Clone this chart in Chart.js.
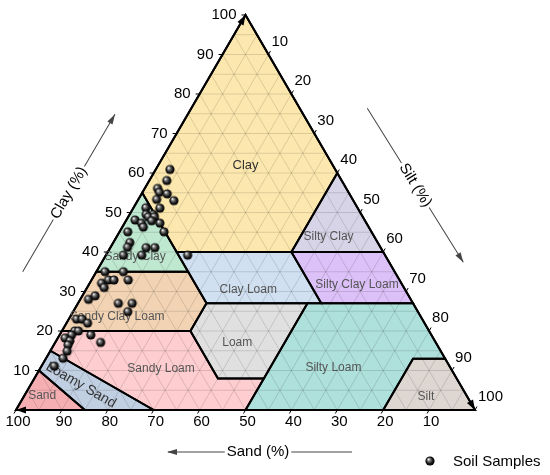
<!DOCTYPE html>
<html>
<head>
<meta charset="utf-8">
<script src="https://cdn.jsdelivr.net/npm/chart.js@4.4.0/dist/chart.umd.min.js"></script>
<style>
  html, body { margin: 0; padding: 0; background: #fff; }
  #wrap { width: 550px; height: 475px; }
</style>
</head>
<body>
<div id="wrap"><canvas id="soilChart" width="550" height="475"></canvas></div>
<script>
// soil samples (%) - silt is whatever is left
const sampleSand = [36.0, 38.1, 41.1, 41.2, 39.7, 42.7, 39.1, 46.1, 43.1, 46.9, 45.3, 46.7, 45.4, 50.0, 49.0,
  46.5, 45.0, 49.1, 45.2, 53.1, 54.0, 55.1, 51.1, 49.2, 57.0, 53.0, 43.0, 63.1, 59.1, 65.3, 63.4, 62.2, 59.1,
  65.3, 70.2, 68.3, 64.2, 61.2, 63.2, 75.3, 74.1, 73.4, 77.2, 76.4, 78.4, 74.2, 80.2, 79.5, 73.0, 80.4, 81.4,
  83.2, 86.1];
const sampleClay = [60.9, 58.1, 56.1, 55.1, 54.7, 53.3, 53.0, 51.2, 51.1, 49.5, 49.5, 48.9, 48.9, 48.1, 47.3,
  47.9, 47.3, 46.3, 45.1, 45.1, 42.4, 41.2, 41.1, 41.1, 39.2, 39.2, 39.2, 35.0, 35.0, 32.1, 32.9, 32.9, 32.9,
  31.0, 28.0, 28.9, 27.0, 27.0, 24.9, 23.0, 23.0, 22.0, 20.0, 20.0, 19.0, 19.0, 18.2, 17.5, 17.1, 16.5, 14.9,
  13.1, 11.1];

const tickValues = [10, 20, 30, 40, 50, 60, 70, 80, 90, 100];

// texture classes, corners given as [sand, clay]
const classNames = ["Clay", "Silty Clay", "Sandy Clay", "Clay Loam", "Silty Clay Loam", "Sandy Clay Loam",
  "Loam", "Silty Loam", "Sandy Loam", "Loamy Sand", "Sand", "Silt"];
const classShapes = [
  [[0, 100], [45, 55], [45, 40], [20, 40], [0, 60]],
  [[0, 60], [20, 40], [0, 40]],
  [[45, 55], [65, 35], [45, 35]],
  [[45, 40], [45, 27], [20, 27], [20, 40]],
  [[20, 40], [20, 27], [0, 27], [0, 40]],
  [[65, 35], [80, 20], [52, 20], [45, 27], [45, 35]],
  [[45, 27], [23, 27], [42, 8], [52, 8], [52, 20]],
  [[23, 27], [0, 27], [0, 13], [7, 13], [20, 0], [50, 0], [42, 8]],
  [[80, 20], [52, 20], [52, 8], [42, 8], [50, 0], [70, 0], [85, 15]],
  [[85, 15], [70, 0], [85, 0], [90, 10]],
  [[90, 10], [85, 0], [100, 0]],
  [[7, 13], [0, 13], [0, 0], [20, 0]]
];
const classLabelAt = [[19, 62], [10, 43.8], [54.7, 38.7], [34.2, 30.4], [9.9, 31.6], [66.2, 23.5],
  [43.3, 17], [25.5, 10.7], [63.2, 10.4], [82.7, 6.3], [92.5, 3.6], [9, 3.4]];
const classColors = ["#fce8ae", "#d6d4e6", "#bfe8d0", "#d0e0f1", "#dcc0f8", "#f2d4b4",
  "#e0e0e0", "#aee0dc", "#fdcdcf", "#c0cfe2", "#f5afb3", "#ddd6d1"];

const FONT = 'Arial, "Liberation Sans", sans-serif';

function makeBall(r) {
  const c = document.createElement("canvas");
  const s = Math.ceil(r * 2) + 2;
  c.width = s; c.height = s;
  const g = c.getContext("2d");
  const m = s / 2;
  const grad = g.createRadialGradient(m - r * 0.35, m - r * 0.4, r * 0.05, m, m, r);
  grad.addColorStop(0, "#ffffff");
  grad.addColorStop(0.3, "#7a7a7a");
  grad.addColorStop(0.7, "#151515");
  grad.addColorStop(1, "#000000");
  g.fillStyle = grad;
  g.beginPath();
  g.arc(m, m, r, 0, Math.PI * 2);
  g.fill();
  return c;
}
const ball = makeBall(4.6);

function arrowHead(ctx, x, y, ang, len, half) {
  ctx.save();
  ctx.translate(x, y);
  ctx.rotate(ang);
  ctx.beginPath();
  ctx.moveTo(0, 0);
  ctx.lineTo(-len, -half);
  ctx.lineTo(-len, half);
  ctx.closePath();
  ctx.fill();
  ctx.restore();
}

const ternaryPlugin = {
  id: "ternary",
  beforeDatasetsDraw(chart) {
    const ctx = chart.ctx;
    const xs = chart.scales.x, ys = chart.scales.y;
    const P = (sand, clay) => [xs.getPixelForValue(100 - sand - clay / 2), ys.getPixelForValue(clay)];
    ctx.save();

    // class fills
    classShapes.forEach((shape, i) => {
      ctx.beginPath();
      shape.forEach((v, j) => {
        const p = P(v[0], v[1]);
        if (j === 0) ctx.moveTo(p[0], p[1]); else ctx.lineTo(p[0], p[1]);
      });
      ctx.closePath();
      ctx.fillStyle = classColors[i];
      ctx.fill();
    });

    // 5% grid
    ctx.strokeStyle = "rgba(0,0,0,0.13)";
    ctx.lineWidth = 1;
    for (let k = 5; k < 100; k += 5) {
      const segs = [[P(100 - k, k), P(0, k)], [P(k, 0), P(k, 100 - k)], [P(100 - k, 0), P(0, 100 - k)]];
      segs.forEach(s => {
        ctx.beginPath();
        ctx.moveTo(s[0][0], s[0][1]);
        ctx.lineTo(s[1][0], s[1][1]);
        ctx.stroke();
      });
    }

    // class borders
    ctx.strokeStyle = "#000";
    ctx.lineWidth = 2;
    ctx.lineJoin = "miter";
    classShapes.forEach(shape => {
      ctx.beginPath();
      shape.forEach((v, j) => {
        const p = P(v[0], v[1]);
        if (j === 0) ctx.moveTo(p[0], p[1]); else ctx.lineTo(p[0], p[1]);
      });
      ctx.closePath();
      ctx.stroke();
    });

    // outline
    const A = P(100, 0), B = P(0, 0), C = P(0, 100);
    ctx.beginPath();
    ctx.moveTo(A[0], A[1]); ctx.lineTo(B[0], B[1]); ctx.lineTo(C[0], C[1]); ctx.closePath();
    ctx.stroke();
    ctx.fillStyle = "#000";
    arrowHead(ctx, C[0], C[1], Math.atan2(C[1] - A[1], C[0] - A[0]), 10, 3.5);
    arrowHead(ctx, A[0], A[1], Math.PI, 10, 3.5);
    arrowHead(ctx, B[0], B[1], Math.atan2(B[1] - C[1], B[0] - C[0]), 10, 3.5);

    // region labels
    ctx.textAlign = "center";
    ctx.textBaseline = "middle";
    classNames.forEach((name, i) => {
      const p = P(classLabelAt[i][0], classLabelAt[i][1]);
      ctx.fillStyle = name === "Clay" ? "#333" : "#555";
      if (name === "Loamy Sand") {
        ctx.save();
        ctx.translate(p[0], p[1]);
        ctx.rotate(Math.atan2(A[1] - P(85, 15)[1], P(70, 0)[0] - P(85, 15)[0]));
        ctx.font = "14px " + FONT;
        ctx.fillStyle = "#333";
        ctx.fillText(name, 0, 0);
        ctx.restore();
      } else {
        ctx.font = (name === "Clay" ? "13px " : "12px ") + FONT;
        ctx.fillText(name, p[0], p[1]);
      }
    });

    // ticks and tick labels
    ctx.fillStyle = "#000";
    ctx.strokeStyle = "#000";
    ctx.lineWidth = 1;
    ctx.font = "15px " + FONT;
    tickValues.forEach(v => {
      // clay, left edge
      let p = P(100 - v, v);
      ctx.beginPath(); ctx.moveTo(p[0], p[1]); ctx.lineTo(p[0] - 4, p[1]); ctx.stroke();
      ctx.textAlign = "right";
      ctx.fillText(String(v), p[0] - 9, p[1]);
      // sand, bottom
      p = P(v, 0);
      ctx.beginPath(); ctx.moveTo(p[0], p[1]); ctx.lineTo(p[0] - 2, p[1] + 3.5); ctx.stroke();
      ctx.textAlign = "center";
      ctx.fillText(String(v), p[0] + 2, p[1] + 12);
      // silt, right edge
      p = P(0, 100 - v);
      ctx.beginPath(); ctx.moveTo(p[0], p[1]); ctx.lineTo(p[0] + 2, p[1] - 3.5); ctx.stroke();
      ctx.textAlign = "left";
      ctx.fillText(String(v), p[0] + 3, p[1] - 13);
    });

    // axis titles
    ctx.strokeStyle = "#444";
    ctx.fillStyle = "#444";
    ctx.lineWidth = 1;
    const title = (text, x1, y1, x2, y2) => {
      const ang = Math.atan2(y2 - y1, x2 - x1);
      const len = Math.hypot(x2 - x1, y2 - y1);
      ctx.save();
      ctx.translate((x1 + x2) / 2, (y1 + y2) / 2);
      ctx.rotate(ang);
      ctx.font = "15px " + FONT;
      const w = ctx.measureText(text).width / 2 + 2;
      ctx.beginPath();
      ctx.moveTo(-len / 2, 0); ctx.lineTo(-w, 0);
      ctx.moveTo(w, 0); ctx.lineTo(len / 2, 0);
      ctx.stroke();
      ctx.fillStyle = "#444";
      arrowHead(ctx, len / 2, 0, 0, 10, 3);
      ctx.fillStyle = "#000";
      ctx.textAlign = "center";
      ctx.textBaseline = "middle";
      ctx.fillText(text, 0, 0);
      ctx.restore();
    };
    title("Clay (%)", 22.7, 271.7, 115, 114.3);
    title("Silt (%)", 367.3, 108.3, 463.3, 262.3);
    ctx.save();
    ctx.translate(0, 0);
    ctx.restore();
    // sand title reads left to right, arrow points left
    ctx.font = "15px " + FONT;
    ctx.textAlign = "center";
    ctx.textBaseline = "middle";
    const sw = ctx.measureText("Sand (%)").width / 2 + 2;
    ctx.beginPath();
    ctx.moveTo(258 - sw, 452); ctx.lineTo(168, 452);
    ctx.moveTo(258 + sw, 452); ctx.lineTo(352, 452);
    ctx.stroke();
    arrowHead(ctx, 167, 452, Math.PI, 10, 3);
    ctx.fillStyle = "#000";
    ctx.fillText("Sand (%)", 258, 452);

    // legend
    ctx.drawImage(ball, 430 - ball.width / 2, 461 - ball.height / 2);
    ctx.textAlign = "left";
    ctx.fillText("Soil Samples", 453, 462);

    ctx.restore();
  }
};

const points = sampleSand.map((s, i) => ({ x: 100 - s - sampleClay[i] / 2, y: sampleClay[i] }));

new Chart(document.getElementById("soilChart"), {
  type: "scatter",
  data: {
    datasets: [{
      label: "Soil Samples",
      data: points,
      pointStyle: ball,
      pointRadius: 5,
      clip: false
    }]
  },
  options: {
    responsive: false,
    animation: false,
    devicePixelRatio: 1,
    layout: { padding: { left: 16, right: 75, top: 15, bottom: 65 } },
    scales: {
      x: { type: "linear", min: 0, max: 100, display: false },
      y: { type: "linear", min: 0, max: 100, display: false }
    },
    plugins: { legend: { display: false }, tooltip: { enabled: false } }
  },
  plugins: [ternaryPlugin]
});
</script>
</body>
</html>
